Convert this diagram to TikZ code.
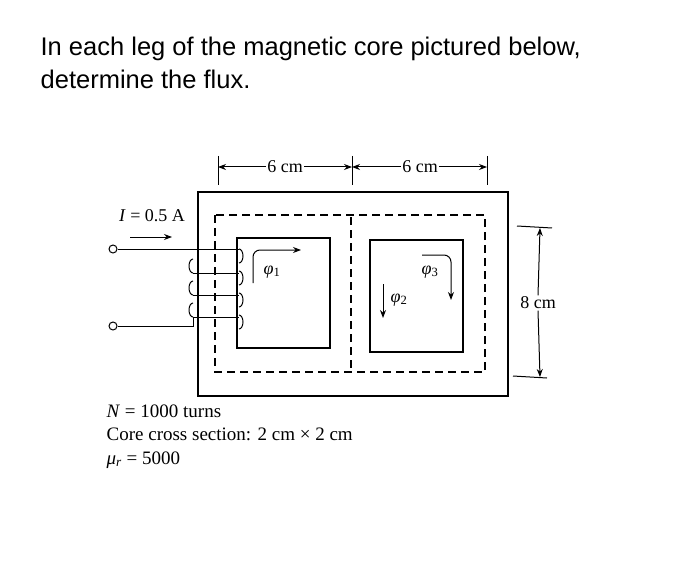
\documentclass[tikz,border=0pt]{standalone}
\usepackage{fontspec}
\setmainfont{Liberation Serif}
\newfontfamily\titlefont{Liberation Sans}
\usetikzlibrary{arrows.meta}
\begin{document}
\begin{tikzpicture}[x=1pt,y=-1pt,line width=1.3pt,
  dashline/.style={dashed,dash pattern=on 8pt off 5pt,line width=1.2pt},
  dimarr/.style={-{Stealth[length=8pt,width=6pt]},line width=1pt},
  lbl/.style={font=\fontsize{18}{20}\selectfont,inner sep=1pt},
  term/.style={circle,draw,inner sep=0pt,minimum size=8pt,line width=1pt,fill=white}]
\useasboundingbox (0,0) rectangle (700,585);
\node[anchor=west,font=\titlefont\fontsize{25.5}{33}\selectfont,align=left,inner sep=0pt] (title) at (40,63)
 {In each leg of the magnetic core pictured below,\\determine the flux.};
% core
\draw (198,192) rectangle (508,396);
\draw (237,238) rectangle (330,348);
\draw (370,240) rectangle (463,352);
\draw[dashline] (215,215) rectangle (485,372);
\draw[dashline] (351,217) -- (351,370);
% top dimensions
\coordinate (t1) at (218,167); \coordinate (t2) at (352,167); \coordinate (t3) at (487,167);
\draw[line width=1pt] (218,156) -- (218,185) (352,156) -- (352,185) (487,156) -- (487,185);
\node[lbl] (d1) at (285,167) {6 cm};
\node[lbl] (d2) at (420,167) {6 cm};
\draw[dimarr] (d1.west) -- (t1);
\draw[dimarr] (d1.east) -- (t2);
\draw[dimarr] (d2.west) -- (t2);
\draw[dimarr] (d2.east) -- (t3);
% right dimension
\draw[line width=1pt] (517,226) -- (552,228) (513,376) -- (547,378);
\coordinate (r1) at (540,228); \coordinate (r2) at (540,377);
\node[lbl] (d3) at (538,303) {8 cm};
\draw[dimarr] (d3.north) -- (r1);
\draw[dimarr] (d3.south) -- (r2);
% current
\node[lbl] (cur) at (152,216) {\textit{I} = 0.5 A};
\coordinate (ca) at (130,237); \coordinate (cb) at (172,237);
\draw[dimarr] (ca) -- (cb);
% terminals and coil
\node[term] (ta) at (113,249) {};
\node[term] (tb) at (113,326) {};
\draw[line width=1pt] (ta) -- (239,249);
\draw[line width=1pt] (tb) -- (193,326) -- (193,318);
\foreach \y in {273,295,317}{
  \draw[line width=1pt] (193,\y) -- (239,\y);
}
\foreach \y in {256,278,300,322}{
  \draw[line width=1pt] (239,\y-7) arc (90:-90:4pt and 7pt);
}
\foreach \y in {266,288,310}{
  \draw[line width=1pt] (193,\y+7) arc (270:90:4pt and 7pt);
}
% fluxes
\coordinate (f1a) at (253,283); \coordinate (f1b) at (301,250);
\draw[dimarr] (f1a) -- (253,257) arc (180:90:7pt) -- (f1b);
\node[lbl] (p1) at (272,272) {\textit{φ}\textsubscript{1}};
\coordinate (f2a) at (383,284); \coordinate (f2b) at (383,318);
\draw[dimarr] (f2a) -- (f2b);
\node[lbl] (p2) at (399,300) {\textit{φ}\textsubscript{2}};
\coordinate (f3a) at (422,255); \coordinate (f3b) at (451,300);
\draw[dimarr] (f3a) -- (444,255) arc (90:0:7pt) -- (f3b);
\node[lbl] (p3) at (430,272) {\textit{φ}\textsubscript{3}};
% bottom text
\node[anchor=north west,align=left,font=\fontsize{19}{23.5}\selectfont,inner sep=0pt] (info) at (106,404)
 {\textit{N} = 1000 turns\\Core cross section: 2 cm × 2 cm\\\textit{μ}\textsubscript{\textit{r}} = 5000};
\end{tikzpicture}
\end{document}
